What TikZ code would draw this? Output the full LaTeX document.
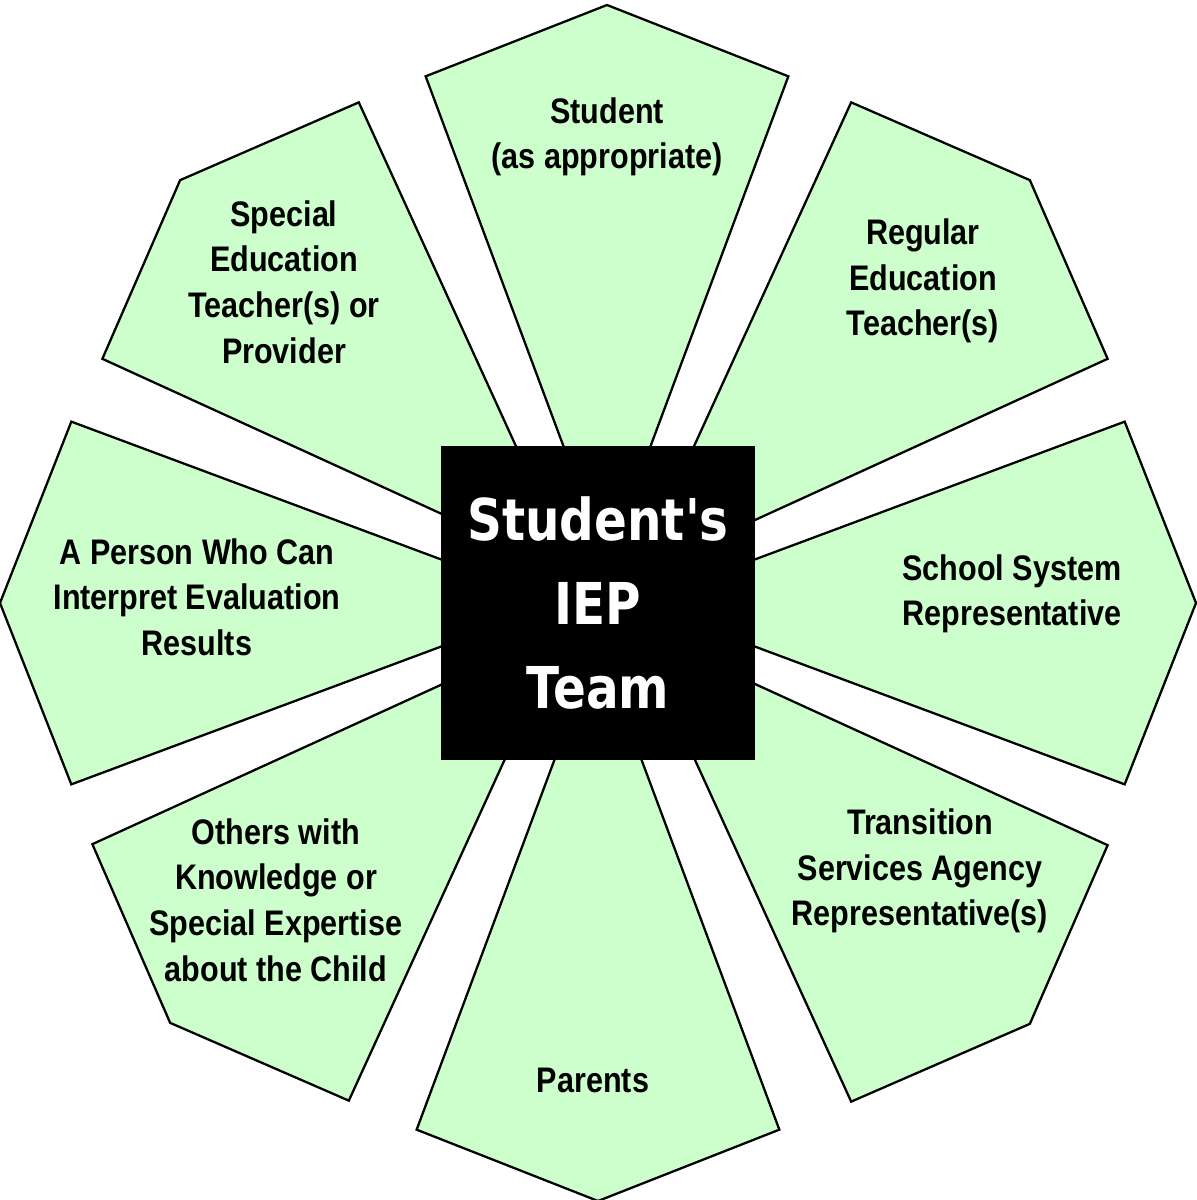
\documentclass[tikz,border=0pt]{standalone}
\usepackage{fontspec}
\usepackage{tikz}
\newfontfamily\lblfont{Liberation Sans}[FakeStretch=0.86]
\newfontfamily\hubfont{DejaVu Sans}[FakeStretch=0.84,Ligatures=TeXOff]
\newcommand{\ra}{598}
\newcommand{\rb}{557}
\newcommand{\rc}{40}
\newcommand{\demi}{19}
\definecolor{vertpale}{RGB}{204,255,204}
\colorlet{colpetale}{vertpale}
\tikzstyle{bord}=[line width=0.65pt,draw=black]
\tikzstyle{petale}=[bord,fill=colpetale]
\tikzstyle{centre}=[fill=black,text=white,minimum width=3.14cm,minimum height=3.13cm,inner sep=0pt,align=center,font=\hubfont\bfseries\fontsize{16.4pt}{23.9pt}\selectfont]
\tikzstyle{etiquette}=[align=center,font=\lblfont\bfseries\fontsize{10.1pt}{12.95pt}\selectfont]

\begin{document}
\begin{tikzpicture}[x=0.01cm,y=0.01cm]

\useasboundingbox (-598,-597) rectangle (598,603);

\foreach \a/\dx/\dy in {0/0/0,45/9/0,90/9/0,135/5/0,180/0/0,225/-5/3,270/0/0,315/9/2}
\draw[petale,shift={(\dx,\dy)}] (\a:\rc) -- (\a-\demi:\rb) -- (\a:\ra) -- (\a+\demi:\rb) -- cycle;

\node[centre] (iep) at (0,0) {Student's\\IEP\\Team};

\node[etiquette] (student) at (9,466) {Student\\(as appropriate)};
\node[etiquette] (regular) at (325,322) {Regular\\Education\\Teacher(s)};
\node[etiquette] (school) at (414,9) {School System\\Representative};
\node[etiquette] (transition) at (322,-268) {Transition\\Services Agency\\Representative(s)};
\node[etiquette] (parents) at (-5,-477) {Parents};
\node[etiquette] (others) at (-322,-297) {Others with\\Knowledge or\\Special Expertise\\about the Child};
\node[etiquette] (person) at (-401,6) {A Person Who Can\\Interpret Evaluation\\Results};
\node[etiquette] (special) at (-314,321) {Special\\Education\\Teacher(s) or\\Provider};

\end{tikzpicture}
\end{document}
